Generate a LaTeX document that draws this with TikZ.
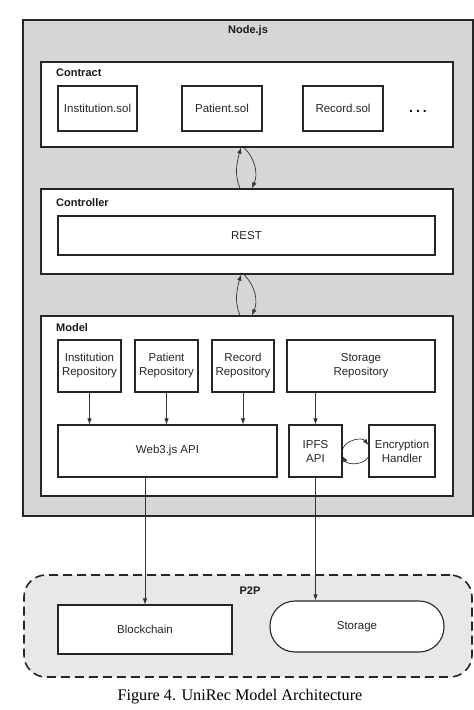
\documentclass[tikz,border=0pt]{standalone}
\usepackage{fontspec}
\setmainfont{Liberation Serif}
\setsansfont{Liberation Sans}
\usepackage{tikz}
\usetikzlibrary{arrows.meta, calc}
\tikzset{>={Latex[length=6pt, width=4.5pt]}}
\def\lw{0.7pt}

\begin{document}
\begin{tikzpicture}[x=1pt, y=-1pt,
    box/.style={draw=black!85, line width=1.1pt, fill=white, inner sep=0pt, align=center,
        font=\sffamily\fontsize{11.5}{14}\selectfont, text=black!85},
    layer/.style={draw=black!85, line width=1.3pt, fill=white, inner sep=0pt,
        minimum width=412},
    ttl/.style={inner sep=0pt, font=\sffamily\bfseries\fontsize{11}{12}\selectfont, text=black!90},
    link/.style={->, line width=\lw, draw=black!80}]

    \useasboundingbox (0,0) rectangle (474,710);

    % Node.js frame
    \node[draw=black!85, line width=1.6pt, fill=black!16, inner sep=0pt,
        minimum width=450, minimum height=496] (nodejs) at (248,268) {};
    \node[ttl] (nodejstitle) at (248,31) {Node.js};

    % three layers
    \node[layer, minimum height=85] (contract) at (247,104.5) {};
    \node[layer, minimum height=85] (ctrl) at (247,231.5) {};
    \node[layer, minimum height=180] (model) at (247,406) {};
    \node[ttl, anchor=west] (contracttitle) at (56,73) {Contract};
    \node[ttl, anchor=west] (ctrltitle) at (56,203) {Controller};
    \node[ttl, anchor=west] (modeltitle) at (56,328) {Model};

    % contract
    \node[box, minimum width=79, minimum height=45] (inst) at (97.5,108.5) {Institution.sol};
    \node[box, minimum width=80, minimum height=45] (pat) at (222,108.5) {Patient.sol};
    \node[box, minimum width=80, minimum height=45] (rec) at (343,108.5) {Record.sol};
    \node[font=\sffamily\bfseries\fontsize{14}{14}\selectfont] (dots) at (418,111) {.\hspace{3pt}.\hspace{3pt}.};

    % controller
    \node[box, minimum width=377, minimum height=39] (rest) at (246.5,235.5) {REST};

    % model
    \node[box, minimum width=63, minimum height=52] (instrepo) at (89.5,366) {Institution\\Repository};
    \node[box, minimum width=63, minimum height=52] (patrepo) at (166.5,366) {Patient\\Repository};
    \node[box, minimum width=62, minimum height=52] (recrepo) at (243,366) {Record\\Repository};
    \node[box, minimum width=148, minimum height=52] (storerepo) at (361,366) {Storage\\Repository};
    \node[box, minimum width=219, minimum height=52] (web3) at (167.5,451) {Web3.js API};
    \node[box, minimum width=53, minimum height=52] (ipfs) at (315.5,451) {IPFS\\API};
    \node[box, minimum width=66, minimum height=52] (crypt) at (402,451) {Encryption\\Handler};

    % P2P
    \node[draw=black!85, line width=1.6pt, dash pattern=on 9pt off 5pt, fill=black!9,
        rounded corners=22pt, minimum width=448, minimum height=102] (p2p) at (248,626) {};
    \node[ttl] (p2ptitle) at (250,591) {P2P};
    \node[box, minimum width=174, minimum height=49] (chain) at (145,629.5) {Blockchain};
    \node[box, rounded corners=25pt, minimum width=174, minimum height=51] (store) at (357,626.5) {Storage};

    % layer loops
    \foreach \up/\down in {contract/ctrl, ctrl/model} {
        \draw[link] ([xshift=-7]\down.north) .. controls +(-6,-14) and +(-4,14) .. ([xshift=-6]\up.south);
        \draw[link] ([xshift=-3]\up.south) .. controls +(12,12) and +(6,-14) .. ([xshift=5]\down.north);
    }

    % repositories
    \foreach \r in {instrepo, patrepo, recrepo}
        \draw[link] (\r) -- (\r |- web3.north);
    \draw[link] (storerepo.south -| ipfs) -- (ipfs.north);

    \draw[link] ([yshift=2]ipfs.east) to[bend left=60] ([yshift=6]crypt.west);
    \draw[link] ([yshift=-6]crypt.west) to[bend left=60] ([yshift=-5]ipfs.east);

    % down to the network
    \draw[link] (web3.south -| chain) -- (chain.north);
    \draw[link] (ipfs.south) -- (ipfs.south |- store.north);

    \node[font=\fontsize{16.2}{18}\selectfont] (caption) at (240,697) {Figure 4. UniRec Model Architecture};

\end{tikzpicture}
\end{document}
